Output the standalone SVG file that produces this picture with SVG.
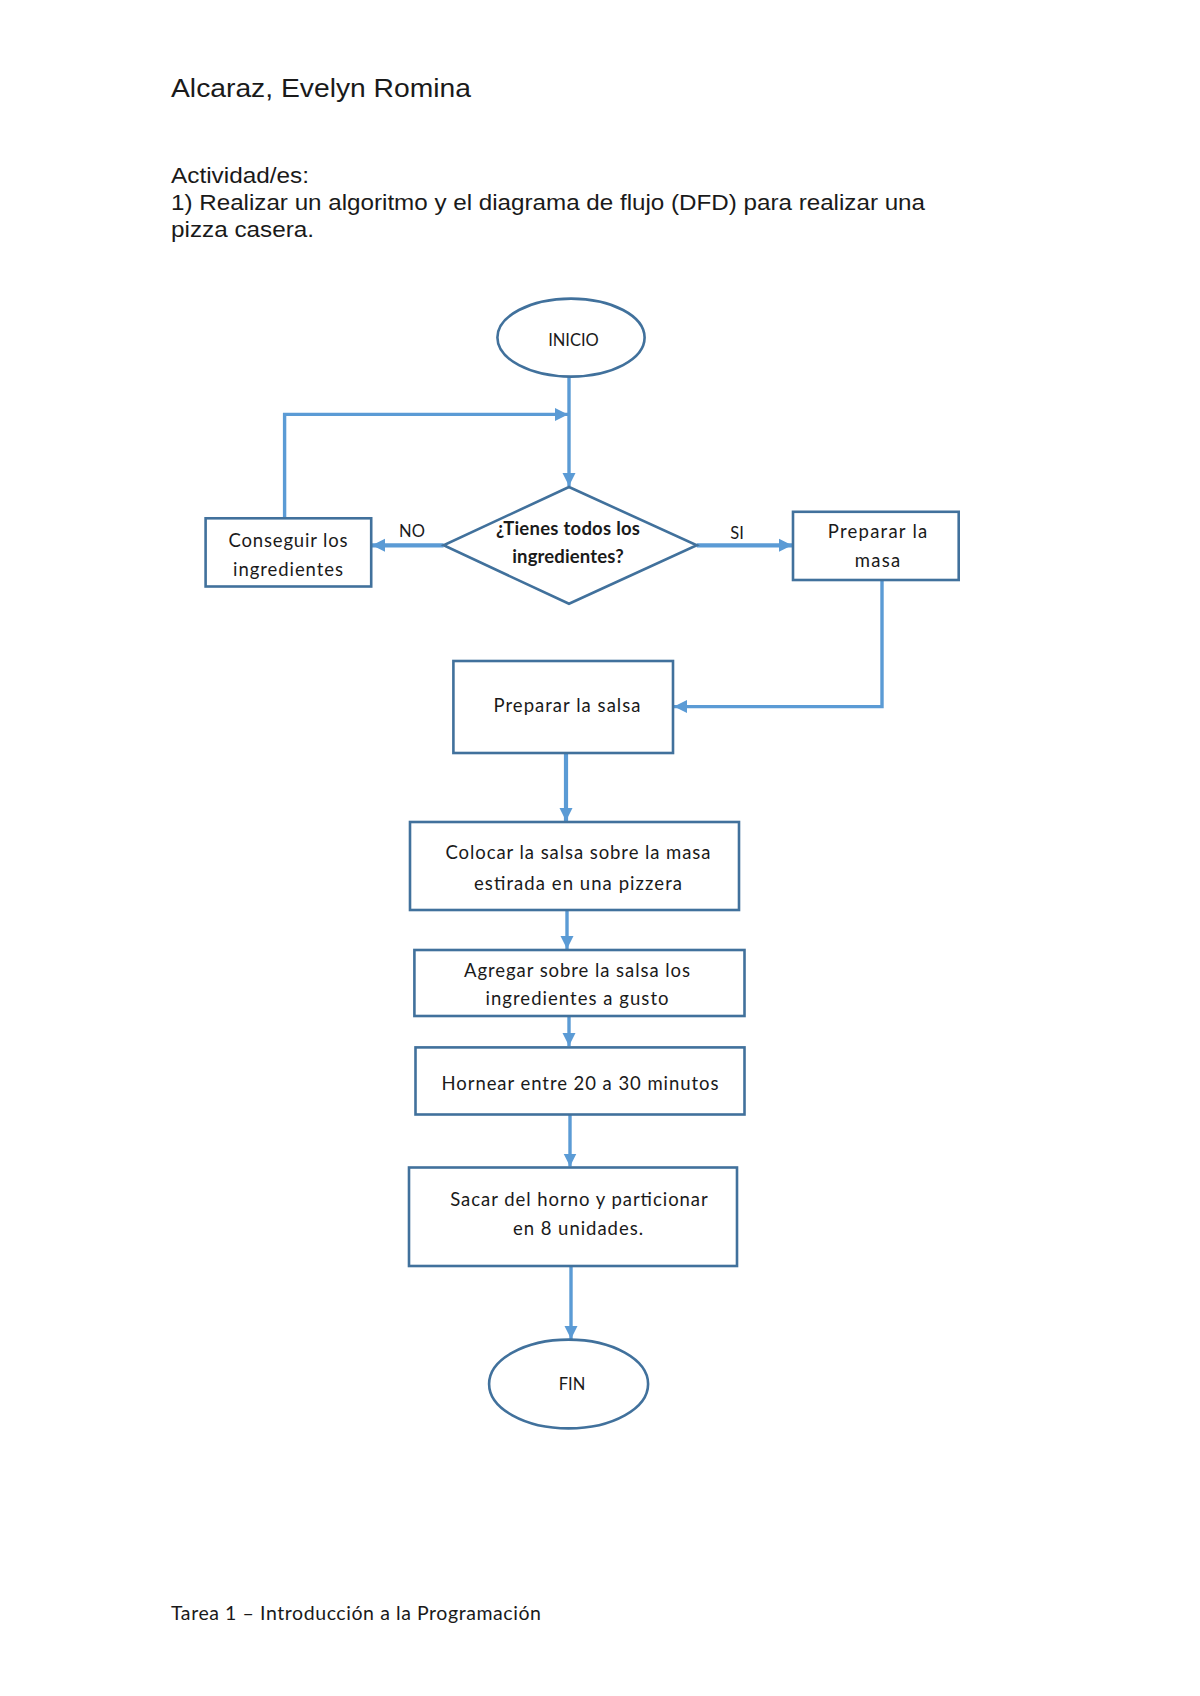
<svg xmlns="http://www.w3.org/2000/svg" width="1200" height="1696" viewBox="0 0 1200 1696">
<defs>
<style>
.hdr{font-family:"Liberation Sans",Arial,sans-serif;fill:#1a1a1a}
.nt{font-family:Lato,"Open Sans",sans-serif;font-size:18.5px;fill:#1a1a1a;text-anchor:middle}
.sm{font-size:16.5px}
.nb{font-weight:bold}
.shape{fill:#fff;stroke:#41719C;stroke-width:2.6}
.conn{fill:none;stroke:#5B9BD5;stroke-width:3.4}
.thick{stroke-width:4.2}
</style>
<marker id="ah" markerUnits="userSpaceOnUse" markerWidth="16" markerHeight="16" refX="13" refY="8" orient="auto">
<path d="M0,1.5 L13,8 L0,14.5 Z" fill="#5B9BD5"/>
</marker>
</defs>
<rect width="1200" height="1696" fill="#fff"/>
<text class="hdr" x="171" y="97" font-size="26" textLength="300" lengthAdjust="spacingAndGlyphs">Alcaraz, Evelyn Romina</text>
<text class="hdr" x="171" y="183" font-size="22" textLength="138" lengthAdjust="spacingAndGlyphs">Actividad/es:</text>
<text class="hdr" x="171" y="210" font-size="22" textLength="754" lengthAdjust="spacingAndGlyphs">1) Realizar un algoritmo y el diagrama de flujo (DFD) para realizar una</text>
<text class="hdr" x="171" y="237" font-size="22" textLength="143" lengthAdjust="spacingAndGlyphs">pizza casera.</text>
<text class="nt" x="171" y="1620" style="text-anchor:start;font-size:19.5px" textLength="370" lengthAdjust="spacing">Tarea 1 – Introducción a la Programación</text>

<g id="connectors">
<path class="conn" d="M569,376 L569,486" marker-end="url(#ah)"/>
<path class="conn" d="M284.6,518 L284.6,414.4 L568,414.4" marker-end="url(#ah)"/>
<path class="conn thick" d="M443.6,545.3 L372,545.3" marker-end="url(#ah)"/>
<path class="conn thick" d="M696.8,545.3 L792,545.3" marker-end="url(#ah)"/>
<path class="conn" d="M882,580 L882,706.6 L674,706.6" marker-end="url(#ah)"/>
<path class="conn thick" d="M566,753 L566,821" marker-end="url(#ah)"/>
<path class="conn" d="M567,910 L567,949" marker-end="url(#ah)"/>
<path class="conn" d="M569,1016 L569,1046" marker-end="url(#ah)"/>
<path class="conn" d="M570,1114.5 L570,1166.5" marker-end="url(#ah)"/>
<path class="conn" d="M571,1266 L571,1339" marker-end="url(#ah)"/>
</g>

<g id="inicio">
<ellipse class="shape" cx="571" cy="337.6" rx="73.6" ry="39"/>
<text class="nt sm" x="573.5" y="345.5">INICIO</text>
</g>
<g id="decision">
<polygon class="shape" points="569,487 696.8,545.3 569,603.8 443.6,545.3"/>
<text class="nt nb" x="568" y="534.5" textLength="144" lengthAdjust="spacing">¿Tienes todos los</text>
<text class="nt nb" x="568" y="562.5" textLength="111.5" lengthAdjust="spacing">ingredientes?</text>
</g>
<text class="nt sm" x="412" y="537">NO</text>
<text class="nt sm" x="737" y="539">SI</text>
<g id="conseguir">
<rect class="shape" x="205.6" y="518.3" width="165.6" height="68.2"/>
<text class="nt" x="288" y="546.5" textLength="119" lengthAdjust="spacing">Conseguir los</text>
<text class="nt" x="288" y="575.5" textLength="110" lengthAdjust="spacing">ingredientes</text>
</g>
<g id="masa">
<rect class="shape" x="793" y="511.8" width="165.7" height="68.2"/>
<text class="nt" x="877.5" y="537.5" textLength="99.5" lengthAdjust="spacing">Preparar la</text>
<text class="nt" x="877.5" y="566.5" textLength="45.5" lengthAdjust="spacing">masa</text>
</g>
<g id="salsa">
<rect class="shape" x="453.4" y="661" width="219.6" height="92"/>
<text class="nt" x="567" y="712" textLength="147" lengthAdjust="spacing">Preparar la salsa</text>
</g>
<g id="colocar">
<rect class="shape" x="410" y="822" width="329" height="88"/>
<text class="nt" x="578" y="859" textLength="265" lengthAdjust="spacing">Colocar la salsa sobre la masa</text>
<text class="nt" x="578" y="889.5" textLength="208" lengthAdjust="spacing">estirada en una pizzera</text>
</g>
<g id="agregar">
<rect class="shape" x="414.4" y="950" width="330.1" height="66"/>
<text class="nt" x="577" y="977" textLength="226" lengthAdjust="spacing">Agregar sobre la salsa los</text>
<text class="nt" x="577" y="1005" textLength="183" lengthAdjust="spacing">ingredientes a gusto</text>
</g>
<g id="hornear">
<rect class="shape" x="415.5" y="1047.4" width="329" height="67.1"/>
<text class="nt" x="580" y="1089.5" textLength="277" lengthAdjust="spacing">Hornear entre 20 a 30 minutos</text>
</g>
<g id="sacar">
<rect class="shape" x="409" y="1167.5" width="328" height="98.5"/>
<text class="nt" x="579" y="1205.5" textLength="257.5" lengthAdjust="spacing">Sacar del horno y particionar</text>
<text class="nt" x="578" y="1234.5" textLength="130" lengthAdjust="spacing">en 8 unidades.</text>
</g>
<g id="fin">
<ellipse class="shape" cx="568.6" cy="1384" rx="79.5" ry="44.4"/>
<text class="nt sm" x="572" y="1390">FIN</text>
</g>
</svg>
